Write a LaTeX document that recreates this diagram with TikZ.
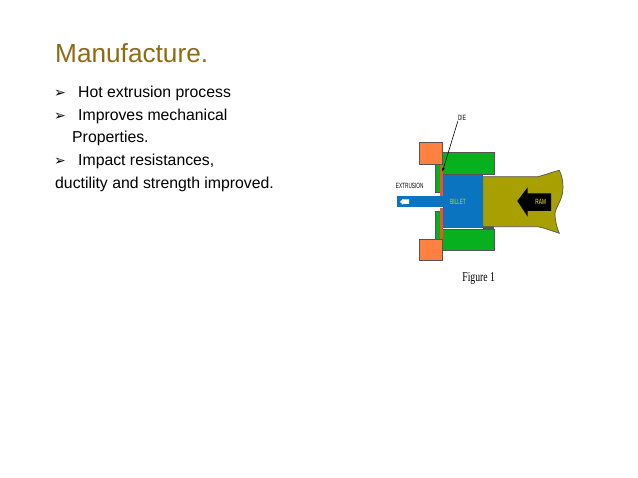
\documentclass[tikz,border=0pt]{standalone}
\usetikzlibrary{arrows.meta}
\usepackage{fontspec}
\setmainfont{Liberation Sans}
\newfontfamily\symfont{DejaVu Sans}
\newfontfamily\capfont{Liberation Serif}
\definecolor{titlebrown}{HTML}{8F6A12}
\definecolor{orangepart}{HTML}{FF8040}
\definecolor{greenpart}{HTML}{06B01E}
\definecolor{bluepart}{HTML}{0A74C0}
\definecolor{redpart}{HTML}{F0502A}
\definecolor{olivepart}{HTML}{A8A000}
\definecolor{edgegrey}{HTML}{555555}
\tikzset{
  part/.style={draw=edgegrey,line width=0.7pt},
  bodytext/.style={anchor=base west,inner sep=0pt,font=\fontsize{15.8}{18}\selectfont},
  bullet/.style={anchor=base west,inner sep=0pt,font=\symfont\fontsize{14}{16}\selectfont},
  tiny/.style={inner sep=0pt,font=\fontsize{7.6}{9}\selectfont,xscale=0.62},
}
\begin{document}
\begin{tikzpicture}[x=1pt,y=-1pt]
\useasboundingbox[fill=white] (0,0) rectangle (638,478);
% text
\node[anchor=base west,inner sep=0pt,text=titlebrown,font=\fontsize{26.2}{30}\selectfont] (title) at (55,62.5) {Manufacture.};
\node[bullet] (b1) at (54,98) {➢};
\node[bodytext] (t1) at (78,97.7) {Hot extrusion process};
\node[bullet] (b2) at (54,120.5) {➢};
\node[bodytext] (t2) at (78,120.2) {Improves mechanical};
\node[bodytext] (t3) at (72,143) {Properties.};
\node[bullet] (b3) at (54,166) {➢};
\node[bodytext] (t4) at (78,165.7) {Impact resistances,};
\node[bodytext] (t5) at (55,188.7) {ductility and strength improved.};
% die assembly
\fill[edgegrey] (482.7,225) rectangle (494,229);
\path[part,fill=olivepart] (482.7,176.7) -- (537.7,176.7) .. controls (545,175) and (552,172) .. (559.3,170.3)
  .. controls (563,178) and (563.5,186) .. (562.7,192) .. controls (561,202) and (556,207) .. (555,213)
  .. controls (555,221) and (557,228) .. (559.3,233.3) .. controls (552,231) and (545,228) .. (537.7,226.7)
  -- (482.7,226.7) -- cycle;
\path[part,fill=greenpart] (442.3,152.7) rectangle (494,174);
\path[part,fill=greenpart] (442.3,229) rectangle (494,250.7);
\path[part,fill=greenpart] (435.7,164) rectangle (440,192.3);
\path[part,fill=greenpart] (435.7,211.7) rectangle (440,239);
\path[fill=redpart] (440,164) rectangle (442.7,195.7);
\path[fill=redpart] (440,207.7) rectangle (442.7,239);
\path[part,fill=orangepart] (419.7,142.3) rectangle (442.3,164);
\path[part,fill=orangepart] (419.7,239) rectangle (442.3,260.7);
\path[fill=bluepart] (442.7,174.7) rectangle (482.7,228.3);
\path[fill=bluepart] (397.3,196) rectangle (443,207.3);
\path[fill=white] (403,199.5) rectangle (409,204) (403,198.8) -- (403,204.8) -- (400,201.8) -- cycle;
% ram arrow
\path[fill=black] (517.3,201) -- (527.7,187.3) -- (527.7,193.3) -- (551,193.3) -- (551,211) -- (527.7,211) -- (527.7,216.7) -- cycle;
% labels
\node[tiny] (die) at (462,118) {DIE};
\coordinate (dietip) at (442.3,172);
\draw[line width=0.6pt,-{Latex[length=4pt,width=2.5pt]}] (die.south west) -- (dietip);
\node[tiny] (extr) at (409.7,186) {EXTRUSION};
\node[tiny,text=yellow!75!green] (billet) at (458,202) {BILLET};
\node[tiny,text=yellow!80!white] (ram) at (540.7,201.7) {RAM};
\node[inner sep=0pt,font=\capfont\fontsize{13.5}{15}\selectfont,xscale=0.72] (fig) at (478.7,278) {Figure 1};
\end{tikzpicture}
\end{document}
